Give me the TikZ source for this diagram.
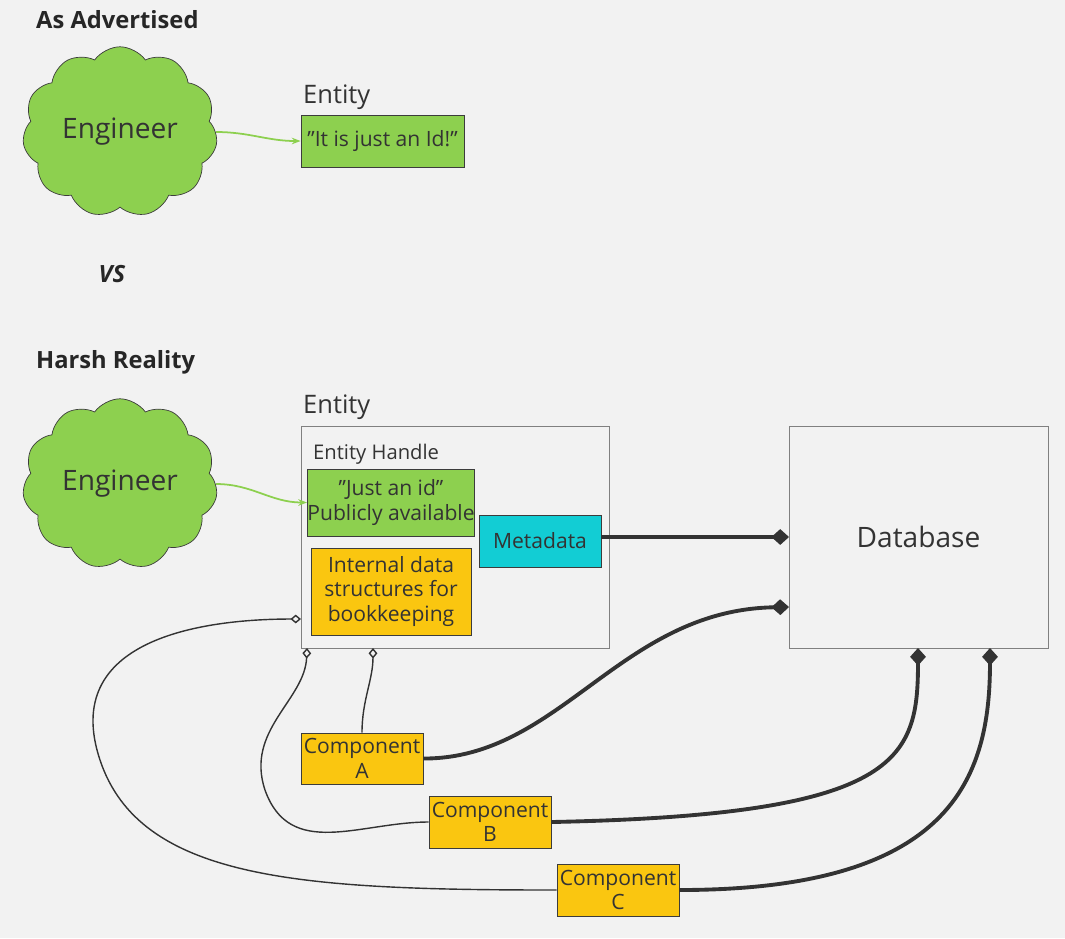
\documentclass[tikz,border=0pt]{standalone}
\usepackage{fontspec}
\setmainfont{Open Sans}
\usetikzlibrary{shapes.symbols,arrows.meta}
\definecolor{bg}{RGB}{242,242,242}
\definecolor{gr}{RGB}{141,208,79}
\definecolor{ye}{RGB}{250,198,16}
\definecolor{cy}{RGB}{18,205,212}
\definecolor{bd}{RGB}{60,60,60}
\definecolor{ln}{RGB}{51,51,51}
\begin{document}
\begin{tikzpicture}[x=0.02cm,y=-0.02cm,
  box/.style={draw=bd,line width=0.5pt,align=center,inner sep=0pt,font=\fontsize{12}{14}\selectfont,text=black!80},
  cl/.style={cloud,cloud puffs=11,cloud puff arc=110,draw=bd,fill=gr,minimum width=3.3cm,minimum height=2.7cm,aspect=1.2,font=\fontsize{16}{18}\selectfont,text=black!80},
  ttl/.style={anchor=west,font=\bfseries\fontsize{13.5}{16}\selectfont,text=black!85},
  lab/.style={anchor=west,font=\fontsize{14.5}{17}\selectfont,text=black!80},
  thick/.style={draw=ln,line width=2.2pt},
  thin/.style={draw=ln,line width=0.8pt},
  garr/.style={draw=gr,line width=1pt,-{Stealth[length=5pt]}}]
\fill[bg] (0,0) rectangle (1065,938);
\useasboundingbox (0,0) rectangle (1065,938);
\node[ttl] (t1) at (30,20) {As Advertised};
\node[cl] (c1) at (120,132) {Engineer};
\node[lab] (e1) at (297,97) {Entity};
\node[box,fill=gr,minimum width=163*0.02cm,minimum height=52*0.02cm] (b1) at (382.5,141) {"It is just an Id!"};
\draw[garr] (c1.east) to[out=0,in=180] (b1.west);
\node[font=\bfseries\itshape\fontsize{13.5}{16}\selectfont,text=black!85] (vs) at (112,274) {VS};
\node[ttl] (t2) at (30,362) {Harsh Reality};
\node[cl] (c2) at (120,484) {Engineer};
\node[lab] (e2) at (297,407) {Entity};
\node[box,draw=gray,minimum width=308*0.02cm,minimum height=222*0.02cm] (ent) at (455,537) {};
\node[anchor=west,font=\fontsize{11.5}{13}\selectfont,text=black!80] (eh) at (307,454) {Entity Handle};
\node[box,fill=gr,minimum width=160*0.02cm,minimum height=67*0.02cm] (h) at (391,502.5) {"Just an id"\\Publicly available};
\node[box,fill=ye,minimum width=160*0.02cm,minimum height=87*0.02cm] (in) at (391,591.5) {Internal data\\structures for\\bookkeeping};
\node[box,fill=cy,minimum width=122*0.02cm,minimum height=52*0.02cm] (md) at (540,541) {Metadata};
\node[box,draw=gray,minimum width=259*0.02cm,minimum height=222*0.02cm,font=\fontsize{16}{18}\selectfont] (db) at (918.5,537) {Database};
\node[box,fill=ye,minimum width=122*0.02cm,minimum height=51*0.02cm] (ca) at (362,758.5) {Component\\A};
\node[box,fill=ye,minimum width=122*0.02cm,minimum height=52*0.02cm] (cb) at (490,822) {Component\\B};
\node[box,fill=ye,minimum width=122*0.02cm,minimum height=52*0.02cm] (cc) at (618,890) {Component\\C};
\draw[garr] (c2.east) to[out=0,in=180] (h.west);
\coordinate (d1) at (789,537);
\coordinate (d2) at (789,607);
\coordinate (d3) at (918,648);
\coordinate (d4) at (990,648);
\coordinate (o1) at (373,648);
\coordinate (o2) at (307,648);
\coordinate (o3) at (301,619);
\draw[thick,-{Diamond[length=10pt,width=9pt]}] (md.east|-d1) -- (d1);
\draw[thick,-{Diamond[length=10pt,width=9pt]}] (ca.east) .. controls (560,759) and (620,610) .. (d2);
\draw[thick,-{Diamond[length=10pt,width=9pt]}] (cb.east) .. controls (900,815) and (918,760) .. (d3);
\draw[thick,-{Diamond[length=10pt,width=9pt]}] (cc.east) .. controls (950,890) and (990,780) .. (d4);
\draw[thin,-{Diamond[open,length=6pt,width=5pt]}] (ca.north) .. controls (362,700) and (373,680) .. (o1);
\draw[thin,-{Diamond[open,length=6pt,width=5pt]}] (cb.west) .. controls (360,822) and (290,860) .. (265,790) .. controls (245,730) and (305,700) .. (o2);
\draw[thin,-{Diamond[open,length=6pt,width=5pt]}] (cc.west) .. controls (300,890) and (140,880) .. (100,760) .. controls (60,640) and (200,619) .. (o3);
\end{tikzpicture}
\end{document}
